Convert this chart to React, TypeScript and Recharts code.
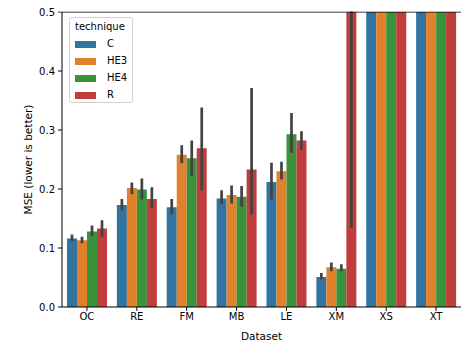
import React from 'react';
import { BarChart, Bar, XAxis, YAxis, ErrorBar, Legend, Label, ReferenceLine } from 'recharts';

const categories = ['OC', 'RE', 'FM', 'MB', 'LE', 'XM', 'XS', 'XT'];
const techniques = ['C', 'HE3', 'HE4', 'R'];
const colors = ['#3274a1', '#e1812c', '#3a923a', '#c03d3e'];

// mean values (values above 0.5 are clipped by the axis)
const cMean = [0.116, 0.173, 0.169, 0.184, 0.212, 0.051, 1.1, 1.2];
const he3Mean = [0.113, 0.2015, 0.258, 0.19, 0.23, 0.0674, 1.1, 1.2];
const he4Mean = [0.128, 0.199, 0.252, 0.187, 0.293, 0.065, 1.1, 1.2];
const rMean = [0.133, 0.183, 0.269, 0.233, 0.282, 0.9, 1.1, 1.2];

// confidence intervals (low, high)
const cLow = [0.112, 0.164, 0.157, 0.174, 0.182, 0.0465, 1.0, 1.1];
const cHigh = [0.123, 0.183, 0.183, 0.198, 0.2445, 0.0577, 1.2, 1.3];
const he3Low = [0.108, 0.191, 0.2435, 0.1755, 0.216, 0.0606, 1.0, 1.1];
const he3High = [0.119, 0.211, 0.274, 0.206, 0.246, 0.0754, 1.2, 1.3];
const he4Low = [0.12, 0.182, 0.222, 0.17, 0.261, 0.0606, 1.0, 1.1];
const he4High = [0.138, 0.218, 0.282, 0.205, 0.329, 0.0725, 1.2, 1.3];
const rLow = [0.119, 0.168, 0.198, 0.157, 0.266, 0.134, 1.0, 1.1];
const rHigh = [0.147, 0.203, 0.338, 0.371, 0.298, 1.6, 1.2, 1.3];

const yTicks = [0, 0.1, 0.2, 0.3, 0.4, 0.5];

const means = [cMean, he3Mean, he4Mean, rMean];
const lows = [cLow, he3Low, he4Low, rLow];
const highs = [cHigh, he3High, he4High, rHigh];

const data = categories.map((name, i) => {
  const row: any = { name };
  techniques.forEach((t, k) => {
    row[t] = means[k][i];
    row[t + '_err'] = [means[k][i] - lows[k][i], highs[k][i] - means[k][i]];
  });
  return row;
});

const FONT = '"DejaVu Sans", sans-serif';

const LegendBox = () => (
  <div
    style={{
      position: 'absolute',
      left: 69,
      top: 17,
      width: 64,
      height: 86,
      border: '1px solid #d0d0d0',
      borderRadius: 3,
      background: 'rgba(255,255,255,0.8)',
      fontFamily: FONT,
      fontSize: 10,
      color: '#000',
      boxSizing: 'border-box',
    }}
  >
    <div style={{ position: 'absolute', left: 5, top: 3, lineHeight: '12px' }}>technique</div>
    {techniques.map((t, k) => (
      <div key={t} style={{ position: 'absolute', left: 5, top: 20 + k * 16.9, height: 12 }}>
        <div
          style={{
            position: 'absolute',
            left: 0,
            top: 3,
            width: 21,
            height: 7,
            background: colors[k],
          }}
        />
        <div style={{ position: 'absolute', left: 32, top: 0, lineHeight: '12px' }}>{t}</div>
      </div>
    ))}
  </div>
);

export default function App() {
  return (
    <div style={{ position: 'absolute', left: 0, top: 0, width: 474, height: 351, background: '#fff' }}>
      <div
        style={{
          position: 'absolute',
          left: 0,
          top: 0,
          clipPath: 'polygon(0 0, 58px 0, 58px 11.5px, 474px 11.5px, 474px 351px, 0 351px)',
        }}
      >
        <BarChart
          width={474}
          height={351}
          data={data}
          margin={{ top: 12, right: 13, bottom: 0, left: 0 }}
          barCategoryGap="10%"
          barGap={0}
          style={{ fontFamily: FONT }}
        >
          <XAxis
            dataKey="name"
            height={44}
            tickSize={4}
            tickMargin={2}
            tick={{ fill: '#000', fontSize: 10 }}
            tickLine={{ stroke: '#000' }}
            axisLine={{ stroke: '#000' }}
          >
            <Label value="Dataset" position="insideBottom" offset={11} style={{ fill: '#000', fontSize: 10.5 }} />
          </XAxis>
          <YAxis
            width={62}
            domain={[0, 0.5]}
            ticks={yTicks}
            allowDataOverflow
            tickFormatter={(v: number) => v.toFixed(1)}
            tickSize={4}
            tickMargin={3}
            tick={{ fill: '#000', fontSize: 10 }}
            tickLine={{ stroke: '#000' }}
            axisLine={{ stroke: '#000' }}
          >
            <Label
              value="MSE (lower is better)"
              angle={-90}
              position="center"
              dx={-3}
              style={{ fill: '#000', fontSize: 10.5, textAnchor: 'middle' }}
            />
          </YAxis>
          <YAxis
            yAxisId="right"
            orientation="right"
            width={0}
            domain={[0, 0.5]}
            tick={false}
            tickLine={false}
            axisLine={{ stroke: '#000' }}
          />
          <Legend content={() => <LegendBox />} wrapperStyle={{ position: 'absolute', left: 0, top: 0 }} />
          {techniques.map((t, k) => (
            <Bar key={t} dataKey={t} fill={colors[k]} isAnimationActive={false}>
              <ErrorBar dataKey={t + '_err'} width={0} stroke="#424242" strokeWidth={2.7} />
            </Bar>
          ))}
          <ReferenceLine y={0.5} stroke="#000" strokeWidth={1} />
        </BarChart>
      </div>
    </div>
  );
}
